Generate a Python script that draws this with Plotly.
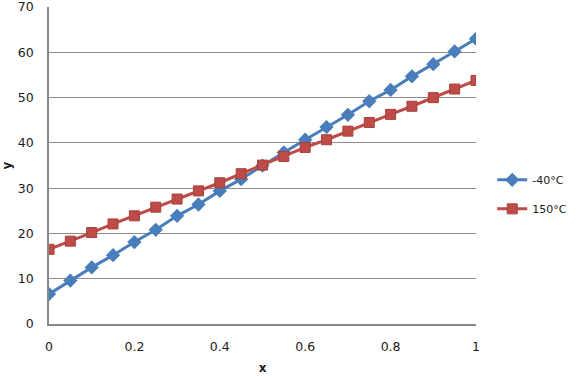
import plotly.graph_objects as go

x_vals = [round(i * 0.05, 2) for i in range(21)]
cold = [6.6, 9.6, 12.5, 15.2, 18.1, 20.8, 23.9, 26.4, 29.4, 32.0, 35.0, 37.9,
        40.7, 43.5, 46.2, 49.2, 51.7, 54.7, 57.4, 60.2, 63.0]
hot = [16.5, 18.3, 20.2, 22.1, 23.9, 25.8, 27.6, 29.4, 31.2, 33.2, 35.1, 37.0,
       39.0, 40.7, 42.6, 44.5, 46.3, 48.1, 50.0, 51.9, 53.8]
series_names = ["-40°C", "150°C"]
x_ticks = [0, 0.2, 0.4, 0.6, 0.8, 1]
x_tick_text = ["0", "0.2", "0.4", "0.6", "0.8", "1"]
y_ticks = [0, 10, 20, 30, 40, 50, 60, 70]

font = "DejaVu Sans"
fig = go.Figure()
fig.add_trace(go.Scatter(
    x=x_vals, y=cold, name=series_names[0], mode="lines+markers",
    legendgroup="a",
    line=dict(color="#4A7EBB", width=3),
    marker=dict(symbol="diamond", size=11, color="#4A7EBB"),
))
fig.add_trace(go.Scatter(
    x=x_vals, y=hot, name=series_names[1], mode="lines+markers",
    legendgroup="b",
    line=dict(color="#BE4B48", width=3),
    marker=dict(symbol="square", size=10, color="#BE4B48",
                line=dict(color="#A5403D", width=1)),
))

fig.update_layout(
    width=580, height=376,
    margin=dict(l=49, r=104, t=7, b=52),
    paper_bgcolor="white", plot_bgcolor="white",
    font=dict(family=font, size=12.5, color="#1a1a1a"),
    legend=dict(x=1.038, y=0.409, xanchor="left", yanchor="middle",
                font=dict(family=font, size=11, color="#1a1a1a"),
                traceorder="grouped", tracegroupgap=10,
                itemwidth=30, bgcolor="rgba(0,0,0,0)"),
    showlegend=True,
)
fig.update_xaxes(
    range=[0, 1], tickvals=x_ticks, ticktext=x_tick_text,
    showgrid=False, zeroline=False, automargin=False,
    showline=True, linecolor="#888888", linewidth=1.5,
    ticks="outside", ticklen=0, ticklabelstandoff=10,
    title=dict(text="<b>x</b>", font=dict(family=font, size=12), standoff=11),
)
fig.update_yaxes(
    range=[0, 70.02], tickvals=y_ticks,
    showgrid=True, gridcolor="#8C8C8C", gridwidth=1.2, zeroline=False,
    automargin=False, ticklabeloverflow="allow",
    showline=True, linecolor="#888888", linewidth=1.5,
    ticks="outside", ticklen=0, ticklabelstandoff=11,
    title=dict(text="<b>y</b>", font=dict(family=font, size=12), standoff=14),
)

fig.write_html("out.html",
               config={"displayModeBar": False},
               post_script="document.body.style.margin='0';document.body.style.overflow='hidden';")
